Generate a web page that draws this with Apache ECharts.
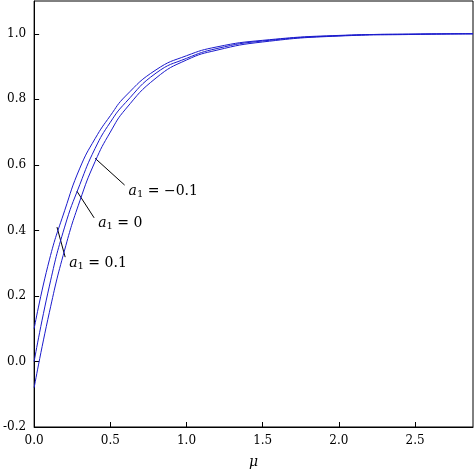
<!DOCTYPE html><html><head><meta charset="utf-8"><script src="https://cdn.jsdelivr.net/npm/echarts@6/dist/echarts.min.js"></script></head><body style="margin:0"><div id="c" style="width:474px;height:474px"></div><script>
const mu=[0,0.1,0.2,0.3,0.4,0.5,0.6,0.8,1.0,1.2,1.5,2.0,2.5,2.88];
const curveTop=[0.1,0.31,0.46,0.59,0.68,0.75,0.81,0.89,0.933,0.96,0.98,0.995,0.999,1.0];
const curveMid=[0.0,0.23,0.41,0.54,0.65,0.73,0.79,0.88,0.925,0.955,0.978,0.994,0.999,1.0];
const curveBot=[-0.08,0.15,0.34,0.49,0.61,0.70,0.77,0.865,0.92,0.95,0.975,0.993,0.998,1.0];
const labels=['−0.1','0','0.1'];
const labelAt=[[0.62,0.52],[0.42,0.42],[0.23,0.30]];
const pointAt=[[0.4,0.62],[0.28,0.52],[0.15,0.41]];
const ch=echarts.init(document.getElementById('c'));
const mk=d=>({type:'line',data:mu.map((m,i)=>[m,d[i]]),smooth:true,symbol:'none',lineStyle:{color:'#1a1acc',width:1}});
const ax={axisLine:{onZero:false,lineStyle:{color:'#000'}},axisTick:{inside:true,lineStyle:{color:'#000'}},splitLine:{show:false},
axisLabel:{color:'#000',fontSize:12,formatter:v=>v.toFixed(1),showMaxLabel:false}};
ch.setOption({animation:false,textStyle:{fontFamily:'DejaVu Serif'},
grid:{left:34,right:1,top:1,bottom:46,show:true,borderColor:'#000',borderWidth:1},
xAxis:Object.assign({type:'value',min:0,max:2.88,interval:0.5,name:'μ',nameLocation:'middle',nameGap:28,nameTextStyle:{fontSize:14,fontStyle:'italic',color:'#000'}},ax),
yAxis:Object.assign({type:'value',min:-0.2,max:1.1,interval:0.2},ax),
series:[mk(curveTop),mk(curveMid),mk(curveBot)]});
const g=[];
labels.forEach((t,i)=>{const a=ch.convertToPixel({gridIndex:0},labelAt[i]);const b=ch.convertToPixel({gridIndex:0},pointAt[i]);
g.push({type:'line',shape:{x1:a[0]-4,y1:a[1]-6,x2:b[0],y2:b[1]},style:{stroke:'#000',lineWidth:1}});
g.push({type:'text',x:a[0],y:a[1],style:{text:'{a|a}{s|1}{n| = '+t+'}',fill:'#000',textVerticalAlign:'middle',
rich:{a:{fontFamily:'DejaVu Serif',fontStyle:'italic',fontSize:14,fill:'#000'},s:{fontFamily:'DejaVu Serif',fontSize:10,verticalAlign:'bottom',padding:[6,0,0,0],fill:'#000'},n:{fontFamily:'DejaVu Serif',fontSize:14,fill:'#000'}}}});});
ch.setOption({graphic:g});
</script></body></html>
